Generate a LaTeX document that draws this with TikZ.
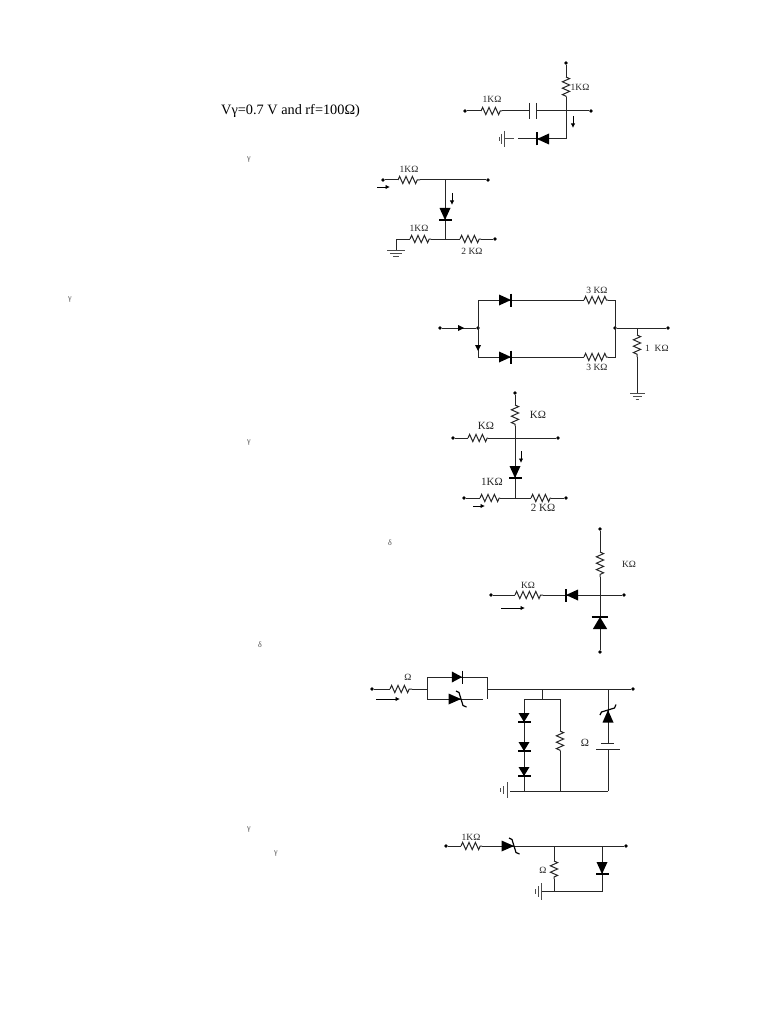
\documentclass[tikz,border=0pt]{standalone}
\usepackage{fontspec}
\setmainfont{Liberation Serif}
\usetikzlibrary{decorations.pathmorphing,arrows.meta}
\tikzset{
  x=1pt,y=-1pt,
  wire/.style={draw=black!85,line width=1pt},
  res/.style={draw=black!85,line width=1pt,decoration={zigzag,segment length=6.4pt,amplitude=3.6pt},decorate},
  dot/.style={circle,fill=black,inner sep=0pt,minimum size=3.6pt},
  lbl/.style={font=\fontsize{9.5}{10}\selectfont,inner sep=0pt,text=black!85},
  lblb/.style={font=\fontsize{11}{12}\selectfont,inner sep=0pt,text=black!85},
  glyph/.style={font=\fontsize{8}{9}\selectfont,inner sep=0pt,text=black!70},
  flow/.style={draw=black,line width=0.9pt,-{Latex[length=4.5pt,width=4.5pt]}},
  gnd/.style={draw=black!70,line width=1pt},
  diode/.pic={\fill[black] (-6,-5.5)--(6,0)--(-6,5.5)--cycle; \draw[black,line width=1.2pt] (6,-6.5)--(6,6.5);},
  zener/.pic={\fill[black] (-6.5,-5.5)--(6,0)--(-6.5,5.5)--cycle; \draw[black,line width=1.2pt] (1,-8)--(4,-6.5)--(8,6.5)--(11.5,8);},
}
\begin{document}
\begin{tikzpicture}
\useasboundingbox[fill=white] (0,0) rectangle (768,1024);
% free text
\node[inner sep=0pt,anchor=west,font=\fontsize{14.3}{16}\selectfont] (title) at (221,111) {Vγ=0.7 V and rf=100Ω)};
\node[glyph] (g1) at (249,160) {γ};
\node[glyph] (g2) at (70,300) {γ};
\node[glyph] (g3) at (249,443) {γ};
\node[glyph] (g4) at (390,543) {δ};
\node[glyph] (g5) at (260,645) {δ};
\node[glyph] (g6) at (249,830) {γ};
\node[glyph] (g7) at (276,854) {γ};

% Circuit 1
\node[dot] (a1) at (566,63) {};
\node[dot] (a2) at (465,111) {};
\node[dot] (a3) at (591,111) {};
\coordinate (a4) at (566,111);
\coordinate (a5) at (566,77);
\coordinate (a6) at (566,97);
\coordinate (a7) at (481,111);
\coordinate (a8) at (502,111);
\coordinate (a9) at (529,111);
\coordinate (a10) at (536,111);
\coordinate (a11) at (566,139);
\coordinate (a12) at (518,139);
\draw[wire] (a1)--(a5) (a6)--(a4) (a2)--(a7) (a8)--(a9) (a10)--(a3) (a4)--(a11)--(a12);
\draw[res] (a5)--(a6);
\draw[res] (a7)--(a8);
\draw[wire] (529,103)--(529,119) (536,103)--(536,119);
\pic[rotate=180] at (543,139) {diode};
\draw[gnd] (514,139)--(504,139) (504,131)--(504,147) (501.5,134)--(501.5,144) (499,137)--(499,141);
\draw[flow] (573,116)--(573,128);
\node[lbl] (al1) at (492,99) {1KΩ};
\node[lbl] (al2) at (580,87) {1KΩ};

% Circuit 2
\node[dot] (b1) at (383,180) {};
\node[dot] (b2) at (488,180) {};
\node[dot] (b3) at (495,239) {};
\coordinate (b4) at (398,180);
\coordinate (b5) at (420,180);
\coordinate (b6) at (445,180);
\coordinate (b7) at (445,239);
\coordinate (b8) at (396,239);
\coordinate (b9) at (410,239);
\coordinate (b10) at (431,239);
\coordinate (b11) at (460,239);
\coordinate (b12) at (481,239);
\coordinate (b13) at (396,250);
\draw[wire] (b1)--(b4) (b5)--(b2) (b6)--(b7) (b13)--(b8)--(b9) (b10)--(b11) (b12)--(b3);
\draw[res] (b4)--(b5);
\draw[res] (b9)--(b10);
\draw[res] (b11)--(b12);
\pic[rotate=-90] at (445,214) {diode};
\draw[gnd] (387,250)--(405,250) (390,253)--(402,253) (393,256)--(399,256);
\draw[flow] (377,187)--(390,187);
\draw[flow] (452,193)--(452,205);
\node[lbl] (bl1) at (409,169) {1KΩ};
\node[lbl] (bl2) at (419,228) {1KΩ};
\node[lbl] (bl3) at (472,251) {2 KΩ};

% Circuit 3
\node[dot] (c1) at (440,328) {};
\node[dot] (c2) at (478,328) {};
\node[dot] (c3) at (615,328) {};
\node[dot] (c4) at (668,328) {};
\coordinate (c5) at (478,300);
\coordinate (c6) at (478,357);
\coordinate (c7) at (584,300);
\coordinate (c8) at (608,300);
\coordinate (c9) at (584,357);
\coordinate (c10) at (608,357);
\coordinate (c11) at (615,300);
\coordinate (c12) at (615,357);
\coordinate (c13) at (637,328);
\coordinate (c14) at (637,335);
\coordinate (c15) at (637,357);
\coordinate (c16) at (637,393);
\draw[wire] (c1)--(c2) (c3)--(c4);
\draw[wire] (c7)--(c5)--(c6)--(c9) (c8)--(c11)--(c12)--(c10);
\draw[wire] (c13)--(c14) (c15)--(c16);
\draw[res] (c7)--(c8);
\draw[res] (c9)--(c10);
\draw[res] (c14)--(c15);
\pic at (505,300) {diode};
\pic at (505,357) {diode};
\draw[gnd] (630,393)--(645,393) (633,396)--(642,396) (635.5,399)--(638.5,399);
\fill[black] (458,325)--(464,328)--(458,331)--cycle;
\fill[black] (475,345)--(481,345)--(478,351)--cycle;
\node[lbl] (cl1) at (597,290) {3 KΩ};
\node[lbl] (cl2) at (597,367) {3 KΩ};
\node[lbl,anchor=west] (cl3) at (645,348) {1\ \ KΩ};

% Circuit 4
\node[dot] (d1) at (515,393) {};
\node[dot] (d2) at (453,438) {};
\node[dot] (d3) at (558,438) {};
\node[dot] (d4) at (464,498) {};
\node[dot] (d5) at (566,498) {};
\coordinate (d6) at (515,405);
\coordinate (d7) at (515,426);
\coordinate (d8) at (515,438);
\coordinate (d9) at (468,438);
\coordinate (d10) at (488,438);
\coordinate (d11) at (515,498);
\coordinate (d12) at (480,498);
\coordinate (d13) at (500,498);
\coordinate (d14) at (531,498);
\coordinate (d15) at (551,498);
\draw[wire] (d1)--(d6) (d7)--(d11) (d2)--(d9) (d10)--(d3) (d4)--(d12) (d13)--(d14) (d15)--(d5);
\draw[res] (d6)--(d7);
\draw[res] (d9)--(d10);
\draw[res] (d12)--(d13);
\draw[res] (d14)--(d15);
\pic[rotate=-90] at (515,472) {diode};
\draw[flow] (521,451)--(521,463);
\draw[flow] (473,506)--(485,506);
\node[lblb] (dl1) at (486,426) {KΩ};
\node[lblb] (dl2) at (538,415) {KΩ};
\node[lblb] (dl3) at (492,482) {1KΩ};
\node[lblb] (dl4) at (543,508) {2 KΩ};

% Circuit 5
\node[dot] (e1) at (600,529) {};
\node[dot] (e2) at (491,595) {};
\node[dot] (e3) at (624,595) {};
\node[dot] (e4) at (600,652) {};
\coordinate (e5) at (600,552);
\coordinate (e6) at (600,577);
\coordinate (e7) at (600,595);
\coordinate (e8) at (515,595);
\coordinate (e9) at (543,595);
\draw[wire] (e1)--(e5) (e6)--(e4) (e2)--(e8) (e9)--(e3);
\draw[res] (e5)--(e6);
\draw[res] (e8)--(e9);
\pic[rotate=180] at (572,595) {diode};
\pic[rotate=90,yscale=1.3] at (600,623) {diode};
\draw[flow] (501,608)--(525,608);
\node[lbl] (el1) at (629,564) {KΩ};
\node[lbl] (el2) at (528,585) {KΩ};

% Circuit 6
\node[dot] (f1) at (372,689) {};
\node[dot] (f2) at (633,689) {};
\coordinate (f3) at (390,689);
\coordinate (f4) at (412,689);
\coordinate (f5) at (427,689);
\coordinate (f6) at (427,677);
\coordinate (f7) at (427,699);
\coordinate (f8) at (487,677);
\coordinate (f9) at (487,699);
\coordinate (f10) at (483,699);
\coordinate (f11) at (488,689);
\coordinate (f12) at (542,689);
\coordinate (f13) at (542,699);
\coordinate (f14) at (524,699);
\coordinate (f15) at (560,699);
\coordinate (f16) at (524,791);
\coordinate (f17) at (560,731);
\coordinate (f18) at (560,751);
\coordinate (f19) at (560,791);
\coordinate (f20) at (608,689);
\coordinate (f21) at (608,743);
\coordinate (f22) at (608,749);
\coordinate (f23) at (608,791);
\coordinate (f24) at (510,791);
\draw[wire] (f1)--(f3) (f4)--(f5) (f6)--(f7) (f6)--(f8)--(f9) (f7)--(f10) (f11)--(f2);
\draw[wire] (f12)--(f13) (f14)--(f15)--(f17) (f18)--(f19) (f14)--(f16) (f24)--(f23) (f20)--(f21) (f22)--(f23);
\draw[res] (f3)--(f4);
\draw[res] (f17)--(f18);
\pic[xscale=.85] at (457,677) {diode};
\pic at (455,699) {zener};
\pic[rotate=-90,xscale=.75] at (524,717.5) {diode};
\pic[rotate=-90,xscale=.75] at (524,746.5) {diode};
\pic[rotate=-90,xscale=.75] at (524,771.5) {diode};
\pic[rotate=90] at (608,716) {zener};
\draw[wire] (601,743)--(614,743) (596,749)--(620,749);
\draw[gnd] (507,782)--(507,798) (503.5,786)--(503.5,794) (500,788)--(500,792);
\draw[flow] (376,699)--(400,699);
\node[lbl] (fl1) at (408,677) {Ω};
\node[lblb] (fl2) at (585,743) {Ω};

% Circuit 7
\node[dot] (h1) at (446,846) {};
\node[dot] (h2) at (626,846) {};
\coordinate (h3) at (461,846);
\coordinate (h4) at (482,846);
\coordinate (h5) at (554,846);
\coordinate (h6) at (554,861);
\coordinate (h7) at (554,879);
\coordinate (h8) at (554,891);
\coordinate (h9) at (602,846);
\coordinate (h10) at (602,891);
\coordinate (h11) at (541,891);
\draw[wire] (h1)--(h3) (h4)--(h2) (h5)--(h6) (h7)--(h8) (h9)--(h10)--(h11);
\draw[res] (h3)--(h4);
\draw[res] (h6)--(h7);
\pic at (508,846) {zener};
\pic[rotate=-90] at (602,868) {diode};
\draw[gnd] (541,883)--(541,900) (538,886)--(538,897) (535,889)--(535,894);
\node[lbl] (hl1) at (471,837) {1KΩ};
\node[lbl] (hl2) at (543,870) {Ω};
\end{tikzpicture}
\end{document}
